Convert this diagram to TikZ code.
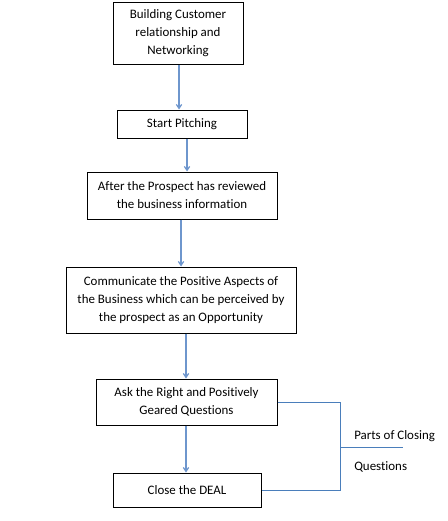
\documentclass[tikz,border=0pt]{standalone}
\usepackage{fontspec}
\setmainfont[Ligatures=NoCommon]{Carlito}
\usetikzlibrary{arrows.meta}
\definecolor{linkblue}{RGB}{74,126,187}
\definecolor{arrblue}{RGB}{110,150,205}
\begin{document}
\begin{tikzpicture}[x=0.75pt,y=-0.75pt,
  stepbox/.style={draw=black,line width=0.75pt,rectangle,inner sep=0pt,align=center,
    font=\fontsize{9.7pt}{13.5pt}\selectfont},
  link/.style={draw=linkblue,line width=0.7pt},
  arr/.style={draw=arrblue,line width=0.9pt,-{Straight Barb[length=3pt,width=4pt]}},
  lbl/.style={anchor=west,inner sep=0pt,font=\fontsize{9.7pt}{13.5pt}\selectfont}]
\useasboundingbox (0,0) rectangle (448,521);
\node[stepbox,minimum width=130*0.75pt,minimum height=62*0.75pt] (b1) at (178,33)
  {Building Customer\\relationship and\\Networking};
\node[stepbox,minimum width=130*0.75pt,minimum height=28*0.75pt] (b2) at (182,124)
  {Start Pitching};
\node[stepbox,minimum width=190*0.75pt,minimum height=47*0.75pt] (b3) at (182,195.5)
  {After the Prospect has reviewed\\the business information};
\node[stepbox,minimum width=230*0.75pt,minimum height=66*0.75pt] (b4) at (181,300)
  {Communicate the Positive Aspects of\\the Business which can be perceived by\\the prospect as an Opportunity};
\node[stepbox,minimum width=181*0.75pt,minimum height=46*0.75pt] (b5) at (186.5,402)
  {Ask the Right and Positively\\Geared Questions};
\node[stepbox,minimum width=148*0.75pt,minimum height=34*0.75pt] (b6) at (187,490)
  {Close the DEAL};
\coordinate (x1) at (179,0);
\coordinate (x2) at (187,0);
\coordinate (x3) at (181,0);
\coordinate (x4) at (186,0);
\coordinate (x5) at (186,0);
\draw[arr] (b1.south -| x1) -- (b2.north -| x1);
\draw[arr] (b2.south -| x2) -- (b3.north -| x2);
\draw[arr] (b3.south -| x3) -- (b4.north -| x3);
\draw[arr] (b4.south -| x4) -- (b5.north -| x4);
\draw[arr] (b5.south -| x5) -- (b6.north -| x5);
\coordinate (br) at (340,0);
\coordinate (mid) at (340,447);
\coordinate (tick) at (403,447);
\draw[link] (b5.east) -- (b5.east -| br) -- (b6.east -| br) -- (b6.east);
\draw[link] (mid) -- (tick);
\node[lbl] (t1) at (354,436) {Parts of Closing};
\node[lbl] (t2) at (354,467) {Questions};
\end{tikzpicture}
\end{document}
